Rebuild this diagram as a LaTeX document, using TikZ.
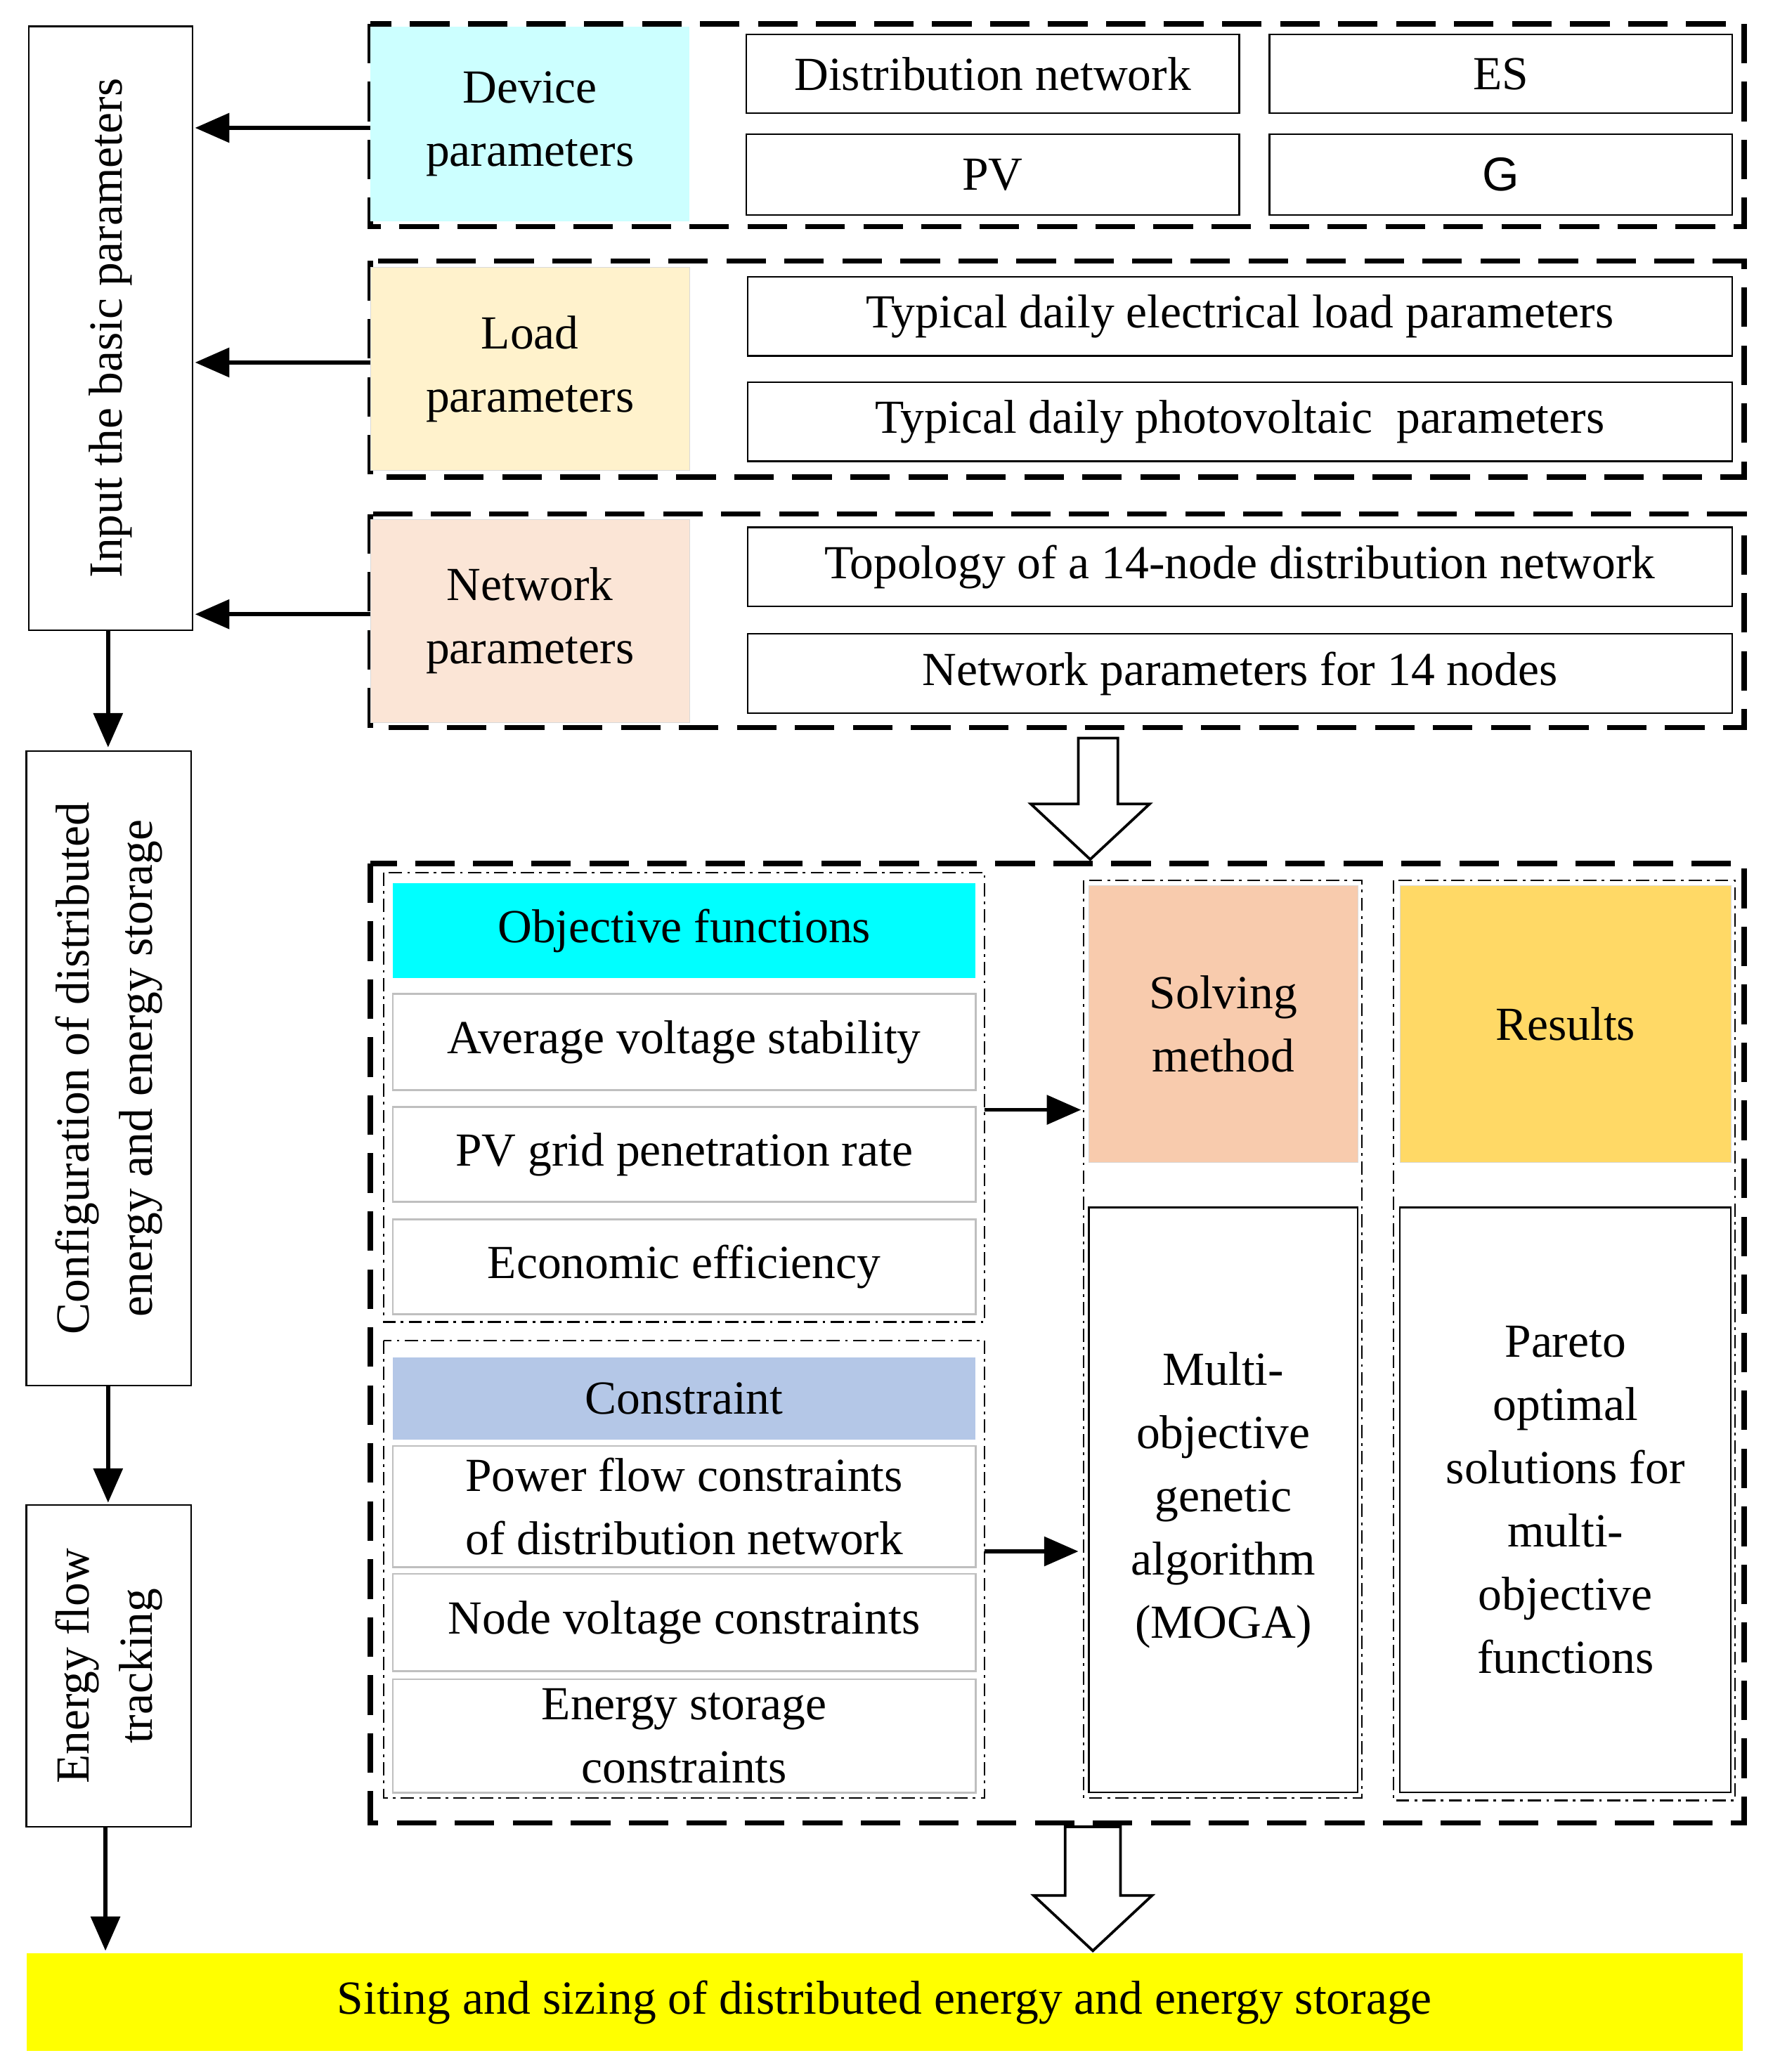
\documentclass[tikz,border=0pt]{standalone}
\usepackage{fontspec}
\setmainfont{Liberation Serif}
\newfontfamily\sansG{Liberation Sans}
\usetikzlibrary{arrows.meta}
\definecolor{cyanA}{HTML}{CCFFFF}
\definecolor{loadC}{HTML}{FFF2CC}
\definecolor{netC}{HTML}{FBE5D6}
\definecolor{objC}{HTML}{00FFFF}
\definecolor{conC}{HTML}{B4C7E7}
\definecolor{solC}{HTML}{F8CBAD}
\definecolor{resC}{HTML}{FFD966}
\definecolor{yel}{HTML}{FFFF00}
\tikzset{
 txt/.style={font=\fontsize{36}{48}\selectfont, align=center},
 bx/.style={draw, line width=1.2pt},
 gbx/.style={draw=black!25, line width=1.5pt},
 grp/.style={draw, line width=4pt, dash pattern=on 30pt off 14pt},
 sub/.style={draw, line width=1.2pt, dash pattern=on 10pt off 4pt on 2pt off 4pt},
 arr/.style={line width=3pt, -{Triangle[length=26pt,width=22pt]}},
 hol/.style={draw, line width=2pt, fill=white}
}
\begin{document}
\begin{tikzpicture}[x=1pt,y=-1pt]
\useasboundingbox (0,0) rectangle (1350,1572);
% left column
\draw[bx] (22,20) rectangle (146,478) node[midway,rotate=90,txt] (l1) {Input the basic parameters};
\draw[bx] (20,570) rectangle (145,1051) node[midway,rotate=90,txt] (l2) {Configuration of distributed\\energy and energy storage};
\draw[bx] (20,1142) rectangle (145,1386) node[midway,rotate=90,txt] (l3) {Energy flow\\tracking};
\draw[arr] (82,478) -- (82,567);
\draw[arr] (82,1051) -- (82,1140);
\draw[arr] (80,1386) -- (80,1480);
\fill[yel] (20,1482) rectangle (1322,1556);
\node[txt] (fin) at (671,1519) {Siting and sizing of distributed energy and energy storage};
% group 1
\draw[grp] (281,18) rectangle (1323,172);
\draw[fill=cyanA,draw=none] (281,20) rectangle (523,168) node[midway,txt] (dev) {Device\\parameters};
\draw[bx] (566,26) rectangle (940,86) node[midway,txt] {Distribution network};
\draw[bx] (963,26) rectangle (1314,86) node[midway,txt] {ES};
\draw[bx] (566,102) rectangle (940,163) node[midway,txt] {PV};
\draw[bx] (963,102) rectangle (1314,163) node[midway,txt] {\sansG G};
\draw[arr] (281,97) -- (148,97);
% group 2
\draw[grp] (281,198) rectangle (1323,362);
\draw[fill=loadC,draw=black!15] (281,203) rectangle (523,357) node[midway,txt] {Load\\parameters};
\draw[bx] (567,210) rectangle (1314,270) node[midway,txt] {Typical daily electrical load parameters};
\draw[bx] (567,290) rectangle (1314,350) node[midway,txt] {Typical daily photovoltaic~~parameters};
\draw[arr] (281,275) -- (148,275);
% group 3
\draw[grp] (281,390) rectangle (1323,552);
\draw[fill=netC,draw=black!15] (281,394) rectangle (523,548) node[midway,txt] {Network\\parameters};
\draw[bx] (567,400) rectangle (1314,460) node[midway,txt] {Topology of a 14-node distribution network};
\draw[bx] (567,481) rectangle (1314,541) node[midway,txt] {Network parameters for 14 nodes};
\draw[arr] (281,466) -- (148,466);
% hollow arrow 1
\draw[hol] (818,560) -- (848,560) -- (848,610) -- (872,610) -- (827,652) -- (782,610) -- (818,610) -- cycle;
% group 4
\draw[grp] (281,655) rectangle (1323,1383);
\draw[sub] (291,662) rectangle (747,1003);
\draw[sub] (291,1017) rectangle (747,1364);
\draw[sub] (822,668) rectangle (1033,1364);
\draw[sub] (1057,668) rectangle (1316,1366);
\fill[objC] (298,670) rectangle (740,742);
\node[txt] at (519,706) {Objective functions};
\draw[gbx] (298,754) rectangle (740,827) node[midway,txt] {Average voltage stability};
\draw[gbx] (298,840) rectangle (740,912) node[midway,txt] {PV grid penetration rate};
\draw[gbx] (298,925) rectangle (740,997) node[midway,txt] {Economic efficiency};
\fill[conC] (298,1030) rectangle (740,1092);
\node[txt] at (519,1061) {Constraint};
\draw[gbx] (298,1097) rectangle (740,1189) node[midway,txt] {Power flow constraints\\of distribution network};
\draw[gbx] (298,1194) rectangle (740,1268) node[midway,txt] {Node voltage constraints};
\draw[gbx] (298,1274) rectangle (740,1360) node[midway,txt] {Energy storage\\constraints};
\draw[fill=solC,draw=black!15] (826,672) rectangle (1030,882) node[midway,txt] {Solving\\method};
\draw[bx] (826,916) rectangle (1030,1360) node[midway,txt] {Multi-\\objective\\genetic\\algorithm\\(MOGA)};
\draw[fill=resC,draw=black!15] (1062,672) rectangle (1313,882) node[midway,txt] {Results};
\draw[bx] (1062,916) rectangle (1313,1360) node[midway,txt] {Pareto\\optimal\\solutions for\\multi-\\objective\\functions};
\draw[arr] (747,842) -- (820,842);
\draw[arr] (747,1177) -- (818,1177);
% hollow arrow 2
\draw[hol] (808,1386) -- (850,1386) -- (850,1438) -- (874,1438) -- (829,1480) -- (784,1438) -- (808,1438) -- cycle;
\end{tikzpicture}
\end{document}
